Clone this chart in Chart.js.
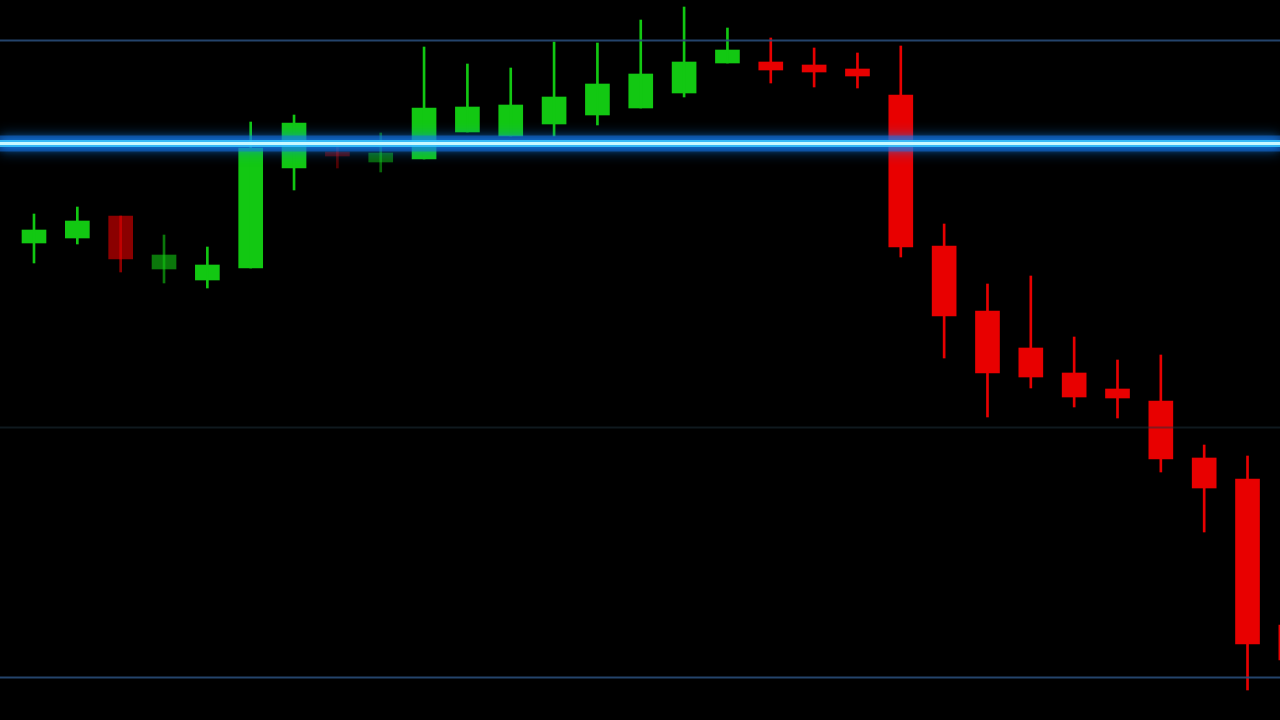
<!DOCTYPE html>
<html>
<head>
<meta charset="utf-8">
<script src="https://cdn.jsdelivr.net/npm/chart.js@4.4.1/dist/chart.umd.min.js"></script>
<style>
    html, body { margin: 0; padding: 0; background: #000; overflow: hidden; }
    canvas { display: block; }
</style>
</head>
<body>
<canvas id="myChart" width="1280" height="720"></canvas>
<script>
// candle values, price units
const opens  = [477, 482, 504, 451, 440, 452, 552, 568, 558, 561, 588, 584, 596, 605, 612, 627, 657, 658, 655, 651, 625, 474, 409, 372, 347, 331, 319, 262, 241, 95];
const closes = [490, 499, 461, 465, 455, 572, 597, 564, 567, 612, 613, 615, 623, 636, 646, 658, 670, 650, 648, 644, 473, 404, 347, 343, 323, 322, 261, 232, 76, 60];
const highs  = [506, 513, 504, 485, 473, 598, 605, 575, 587, 673, 656, 652, 678, 677, 700, 713, 692, 682, 672, 667, 674, 496, 436, 444, 383, 360, 365, 275, 264, 100];
const lows   = [457, 476, 448, 437, 432, 452, 530, 552, 548, 561, 588, 584, 584, 595, 612, 623, 657, 637, 633, 632, 463, 362, 303, 332, 313, 302, 248, 188, 30, 50];
// how bright each candle looks (some are faded)
const fades  = [1, 1, 0.6, 0.6, 1, 1, 1, 0.35, 0.5, 1, 1, 1, 1, 1, 1, 1, 1, 1, 1, 1, 1, 1, 1, 1, 1, 1, 1, 1, 1, 1];
// horizontal levels
const levels = [680, 577, 293, 43];

const candleColor = (i) => {
    const a = fades[i];
    return closes[i] >= opens[i] ? `rgba(18, 200, 18, ${a})` : `rgba(232, 0, 0, ${a})`;
};

const bodies = opens.map((o, i) => ({ x: i, y: [o, closes[i]] }));
const wicks = highs.map((h, i) => ({ x: i, y: [lows[i], h] }));
const colors = opens.map((o, i) => candleColor(i));

const levelLines = {
    id: 'levelLines',
    afterDatasetsDraw(chart) {
        const ctx = chart.ctx;
        const yScale = chart.scales.y;
        const w = chart.width;
        ctx.save();
        levels.forEach((lv, k) => {
            const y = Math.round(yScale.getPixelForValue(lv)) + 0.5;
            if (k === 1) {
                // glowing main line
                ctx.shadowColor = 'rgba(20, 140, 255, 0.9)';
                ctx.shadowBlur = 14;
                ctx.strokeStyle = 'rgba(20, 110, 230, 0.5)';
                ctx.lineWidth = 16;
                ctx.beginPath(); ctx.moveTo(0, y); ctx.lineTo(w, y); ctx.stroke();
                ctx.shadowBlur = 8;
                ctx.strokeStyle = 'rgba(60, 200, 255, 0.85)';
                ctx.lineWidth = 7;
                ctx.beginPath(); ctx.moveTo(0, y); ctx.lineTo(w, y); ctx.stroke();
                ctx.shadowBlur = 0;
                ctx.strokeStyle = '#c8f8ff';
                ctx.lineWidth = 3;
                ctx.beginPath(); ctx.moveTo(0, y); ctx.lineTo(w, y); ctx.stroke();
            } else {
                ctx.shadowBlur = 0;
                ctx.strokeStyle = k === 2 ? 'rgba(30, 50, 60, 0.5)' : 'rgba(40, 75, 120, 0.9)';
                ctx.lineWidth = 2;
                ctx.beginPath(); ctx.moveTo(0, y); ctx.lineTo(w, y); ctx.stroke();
            }
        });
        ctx.restore();
    }
};

const config = {
    type: 'bar',
    data: {
        datasets: [{
            label: 'wicks',
            data: wicks,
            backgroundColor: colors,
            barThickness: 2,
            grouped: false,
            borderSkipped: false
        }, {
            label: 'bodies',
            data: bodies,
            backgroundColor: colors,
            barThickness: 24,
            grouped: false,
            borderSkipped: false
        }]
    },
    options: {
        responsive: false,
        animation: false,
        layout: { padding: 0 },
        scales: {
            x: {
                type: 'linear',
                display: false,
                offset: false,
                min: -34 / 43.34,
                max: (1280 - 34) / 43.34
            },
            y: {
                display: false,
                min: 0,
                max: 720
            }
        },
        plugins: {
            legend: { display: false },
            tooltip: { enabled: false }
        }
    },
    plugins: [levelLines]
};

const ctx = document.getElementById('myChart').getContext('2d');
new Chart(ctx, config);
</script>
</body>
</html>
